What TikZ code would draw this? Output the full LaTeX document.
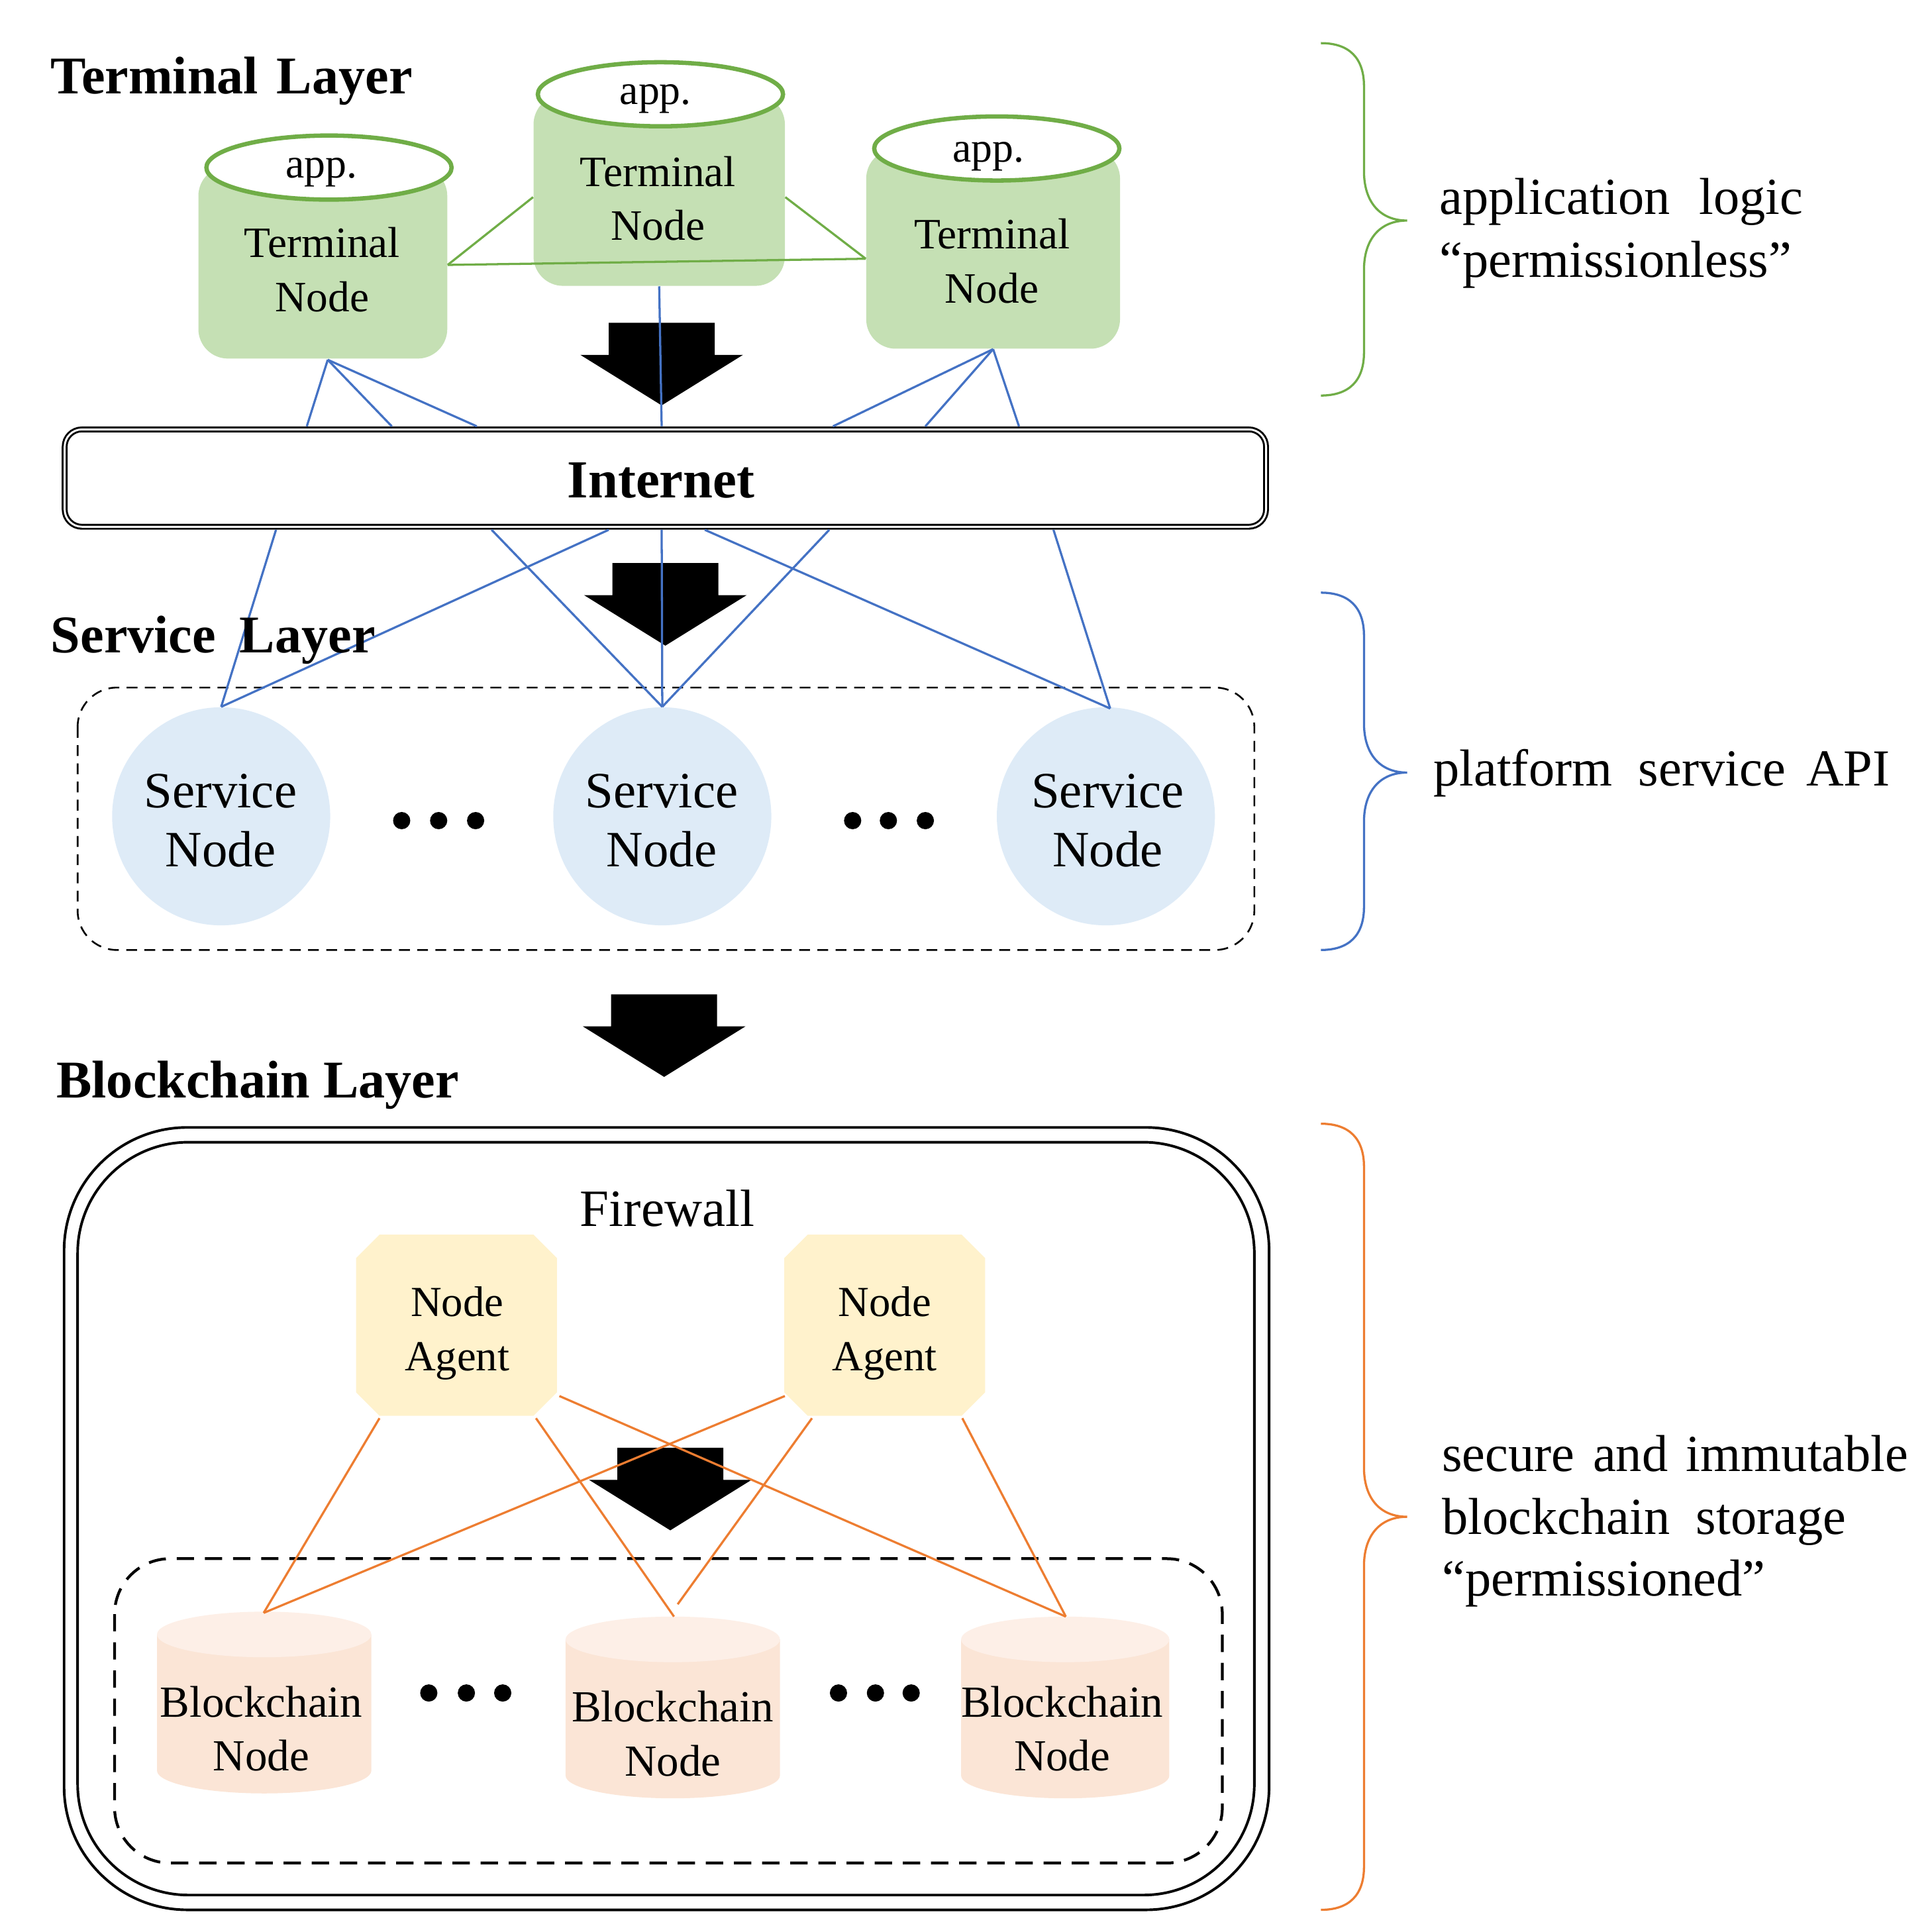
\documentclass[tikz,border=0pt]{standalone}
\usepackage{fontspec}
\setmainfont{Liberation Serif}
\usetikzlibrary{shapes.geometric}
\definecolor{gfill}{HTML}{C5E0B4}
\definecolor{gline}{HTML}{70AD47}
\definecolor{bline}{HTML}{4472C4}
\definecolor{sfill}{HTML}{DEEBF7}
\definecolor{afill}{HTML}{FFF2CC}
\definecolor{oline}{HTML}{ED7D31}
\definecolor{cbody}{HTML}{FBE5D6}
\definecolor{ctop}{HTML}{FDEFE7}
% cx, ytop
\newcommand{\blockarrow}[2]{%
  \fill[black] ({#1-43},#2) -- ({#1+43},#2) -- ({#1+43},{#2+26}) -- ({#1+66},{#2+26})
    -- (#1,{#2+67}) -- ({#1-66},{#2+26}) -- ({#1-43},{#2+26}) -- cycle;}
% colour, top, tip, bottom
\newcommand{\sidebrace}[4]{%
  \draw[#1, line width=1pt] (1072,#2) .. controls (1095,#2) and (1107,{#2+12}) .. (1107,{#2+35})
    -- (1107,{#3-40}) .. controls (1107,{#3-15}) and (1120,#3) .. (1142,#3)
    .. controls (1120,#3) and (1107,{#3+15}) .. (1107,{#3+40})
    -- (1107,{#4-35}) .. controls (1107,{#4-12}) and (1095,#4) .. (1072,#4);}
% cx, top cy, bottom cy, half width (units), x radius (mm)
\newcommand{\cylshape}[5]{%
  \fill[cbody] ({#1-#4},#2) -- ({#1-#4},#3) arc[start angle=180,end angle=360,x radius=#5,y radius=3.7mm]
    -- ({#1+#4},#2) -- cycle;
  \fill[ctop] (#1,#2) ellipse[x radius=#5,y radius=3.7mm];}
% cx, cy
\newcommand{\agentshape}[2]{%
  \fill[afill] ({#1-62.5},{#2-73.5}) -- ({#1+62.5},{#2-73.5}) -- ({#1+81.5},{#2-54.5})
    -- ({#1+81.5},{#2+54.5}) -- ({#1+62.5},{#2+73.5}) -- ({#1-62.5},{#2+73.5})
    -- ({#1-81.5},{#2+54.5}) -- ({#1-81.5},{#2-54.5}) -- cycle;}
\tikzset{
  layertitle/.style={anchor=base west, inner sep=0pt, font=\fontsize{24.5}{29}\selectfont\bfseries},
  righttext/.style={anchor=base west, inner sep=0pt, font=\fontsize{24}{29}\selectfont},
  tbody/.style={rectangle, fill=gfill, rounded corners=4.8mm, inner sep=0pt},
  appell/.style={ellipse, draw=gline, line width=2pt, fill=white, inner sep=0pt,
    minimum width=39.8mm, minimum height=10.4mm},
  apptext/.style={inner sep=0pt, font=\fontsize{19.5}{22}\selectfont},
  ttext/.style={align=center, inner sep=0pt, font=\fontsize{20}{25}\selectfont},
  snode/.style={circle, fill=sfill, minimum size=35.4mm, inner sep=0pt},
  stext/.style={align=center, inner sep=0pt, font=\fontsize{23.5}{27.3}\selectfont},
  atext/.style={align=center, inner sep=0pt, font=\fontsize{19.8}{25}\selectfont},
  ctext/.style={align=center, inner sep=0pt, font=\fontsize{20.5}{25}\selectfont},
  greenlink/.style={draw=gline, line width=1pt},
  bluelink/.style={draw=bline, line width=1pt},
  orangelink/.style={draw=oline, line width=1pt},
  dotfill/.style={fill=black},
}
\begin{document}
\begin{tikzpicture}[x=0.2mm,y=-0.2mm]
\useasboundingbox (0,0) rectangle (1568,1566);

% ---------- braces and side texts ----------
\sidebrace{gline}{35}{179}{321}
\sidebrace{bline}{481}{627}{771}
\sidebrace{oline}{912}{1231}{1550}
\node[righttext] (r1) at (1168,174) {application\hspace{0.55em}logic};
\node[righttext] (r2) at (1168,225) {“permissionless”};
\node[righttext] (r3) at (1163,638) {platform\hspace{0.5em}service\hspace{0.4em}API};
\node[righttext] (r4) at (1170,1194) {secure\hspace{0.35em}and\hspace{0.35em}immutable};
\node[righttext] (r5) at (1170,1245) {blockchain\hspace{0.5em}storage};
\node[righttext] (r6) at (1170,1295) {“permissioned”};

% ---------- terminal layer ----------
\node[layertitle] (tl) at (41,76) {Terminal\hspace{0.35em}Layer};
\node[tbody, minimum width=40.4mm, minimum height=31.2mm] (t1) at (262,213) {};
\node[tbody, minimum width=40.8mm, minimum height=31mm] (t2) at (535,154.5) {};
\node[tbody, minimum width=41.2mm, minimum height=32.4mm] (t3) at (806,202) {};
\node[appell] (e1) at (267,136) {};
\node[appell] (e2) at (536,76.5) {};
\node[appell] (e3) at (809,120.5) {};
\node[apptext] (p1) at (261,140) {app.};
\node[apptext] (p2) at (532,80) {app.};
\node[apptext] (p3) at (802,127) {app.};
\node[ttext] (n1) at (261.5,219) {Terminal\\Node};
\node[ttext] (n2) at (534,161) {Terminal\\Node};
\node[ttext] (n3) at (805,212) {Terminal\\Node};

\coordinate (g1) at ([yshift=-0.4mm]t1.east);
\coordinate (g2) at ([yshift=-1.1mm]t2.west);
\coordinate (g3) at ([yshift=-1.1mm]t2.east);
\coordinate (g4) at ([yshift=-1.6mm]t3.west);
\draw[greenlink] (g1) -- (g2);
\draw[greenlink] (g3) -- (g4);
\draw[greenlink] (g1) -- (g4);

% ---------- arrows ----------
\blockarrow{537}{262}
\blockarrow{540}{457}
\blockarrow{539}{807}

% ---------- internet ----------
\node[draw, double, line width=0.9pt, double distance=0.9pt, rounded corners=2.8mm,
  fill=white, minimum width=195mm, minimum height=15.8mm, inner sep=0pt] (net) at (540,388) {};
\node[anchor=base, inner sep=0pt, font=\fontsize{24.7}{29}\selectfont\bfseries] (nett) at (536.5,404) {Internet};

\coordinate (tb1) at (266,292);
\coordinate (i1) at (249,346);
\coordinate (i2) at (318,346);
\coordinate (i3) at (387,346);
\coordinate (i4) at (537,346);
\coordinate (i5) at (676,346);
\coordinate (i6) at (751,346);
\coordinate (i7) at (827,346);
\draw[bluelink] (tb1) -- (i1);
\draw[bluelink] (tb1) -- (i2);
\draw[bluelink] (tb1) -- (i3);
\draw[bluelink] (t2.south) -- (i4);
\draw[bluelink] (t3.south) -- (i5);
\draw[bluelink] (t3.south) -- (i6);
\draw[bluelink] (t3.south) -- (i7);

% ---------- service layer ----------
\draw[line width=0.8pt, dash pattern=on 5pt off 3.4pt, rounded corners=6.4mm] (63,558) rectangle (1018,771);
\node[snode] (s1) at (179.5,662.5) {};
\node[snode] (s2) at (537.5,662.5) {};
\node[snode] (s3) at (897.5,662.5) {};
\node[stext] (st1) at (179,666) {Service\\Node};
\node[stext] (st2) at (537,666) {Service\\Node};
\node[stext] (st3) at (899,666) {Service\\Node};

\coordinate (j1) at (224,430);
\coordinate (j2) at (399,430);
\coordinate (j3) at (494,430);
\coordinate (j4) at (537,430);
\coordinate (j5) at (572,430);
\coordinate (j6) at (673,430);
\coordinate (j7) at (855,430);
\coordinate (s3top) at (901,575);
\draw[bluelink] (j1) -- (s1.north);
\draw[bluelink] (j3) -- (s1.north);
\draw[bluelink] (j2) -- (s2.north);
\draw[bluelink] (j4) -- (s2.north);
\draw[bluelink] (j6) -- (s2.north);
\draw[bluelink] (j5) -- (s3top);
\draw[bluelink] (j7) -- (s3top);
\node[layertitle] (sl) at (41,529.5) {Service\hspace{0.45em}Layer};

\foreach \dx in {326,356,386,692,721,751} {\fill[dotfill] (\dx,666) circle[radius=1.4mm];}

% ---------- blockchain layer ----------
\node[layertitle] (bl) at (45.5,891) {Blockchain Layer};
\draw[line width=1.2pt, rounded corners=20mm] (52,915) rectangle (1030,1550);
\draw[line width=1.2pt, rounded corners=18mm] (63,927) rectangle (1018,1538);
\node[anchor=base, inner sep=0pt, font=\fontsize{24.2}{29}\selectfont] (fw) at (541.6,995) {Firewall};

\agentshape{370.5}{1075.5}
\agentshape{718}{1075.5}
\node[atext] (a1) at (371,1082) {Node\\Agent};
\node[atext] (a2) at (718,1082) {Node\\Agent};

\blockarrow{544}{1175}

\draw[line width=1.3pt, dash pattern=on 8pt off 5pt, rounded corners=9mm] (93,1265) rectangle (992,1512);

\cylshape{214.4}{1326.5}{1437}{87}{17.4mm}
\cylshape{546}{1330.5}{1441}{87}{17.4mm}
\cylshape{864.5}{1330.5}{1441}{84.5}{16.9mm}
\node[ctext] (b1) at (212,1403) {Blockchain\\Node};
\node[ctext] (b2) at (546,1407) {Blockchain\\Node};
\node[ctext] (b3) at (862,1403) {Blockchain\\Node};

\foreach \dx in {348,378.5,408,680.5,710.5,739.5} {\fill[dotfill] (\dx,1374) circle[radius=1.4mm];}

\coordinate (a1bl) at (308,1151);
\coordinate (a1br) at (435,1151);
\coordinate (a1r) at (454,1133);
\coordinate (a2l) at (637,1133);
\coordinate (a2bl) at (659,1151);
\coordinate (a2br) at (781,1151);
\coordinate (c1) at (214,1309);
\coordinate (c2) at (547,1312);
\coordinate (c2b) at (550,1302);
\coordinate (c3) at (865,1312);
\draw[orangelink] (a1bl) -- (c1);
\draw[orangelink] (a2l) -- (c1);
\draw[orangelink] (a1br) -- (c2);
\draw[orangelink] (a2bl) -- (c2b);
\draw[orangelink] (a1r) -- (c3);
\draw[orangelink] (a2br) -- (c3);
\end{tikzpicture}
\end{document}
